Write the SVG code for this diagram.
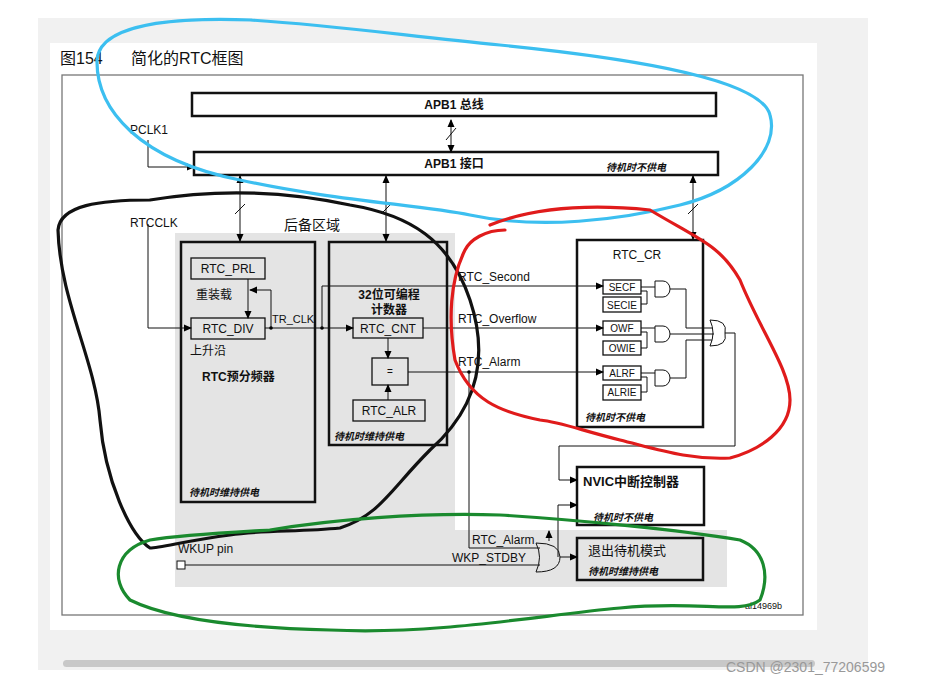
<svg xmlns="http://www.w3.org/2000/svg" width="952" height="685" viewBox="0 0 952 685">
<defs>
<marker id="a" markerWidth="8" markerHeight="8" refX="7" refY="4" orient="auto-start-reverse" markerUnits="userSpaceOnUse"><path d="M0,0.5 L8,4 L0,7.5 z" fill="#000"/></marker>
<style>
text{font-family:"Liberation Sans","Noto Sans CJK SC",sans-serif;font-size:12px;fill:#111}
.b{font-weight:bold}
.i{font-style:italic;font-size:10px;font-weight:bold}
.tk{fill:#fff;stroke:#111;stroke-width:2.5}
.th{fill:#fff;stroke:#111;stroke-width:1.3}
.ln{fill:none;stroke:#111;stroke-width:1}
.ar{fill:none;stroke:#111;stroke-width:1;marker-end:url(#a)}
.g{stroke:#111;stroke-width:1}
.an{fill:none;stroke-width:3.2;stroke-linecap:round;stroke-linejoin:round}
</style>
</defs>
<rect width="952" height="685" fill="#fff"/>
<rect x="38" y="18" width="830" height="652" fill="#f1f1f1"/>
<rect x="50" y="43" width="767" height="587" fill="#fff"/>
<rect x="63" y="660" width="752" height="7" rx="3.5" fill="#c8c8c8"/>
<rect x="62" y="75" width="741" height="540" fill="none" stroke="#777" stroke-width="1.3"/>
<text x="60" y="64" style="font-size:16px">图154</text>
<text x="131" y="64" style="font-size:16px">简化的RTC框图</text>
<polygon points="175,233 455,233 455,530 727,530 727,587 175,587" fill="#e4e4e4"/>

<g id="apb1bus"><rect class="tk" x="192" y="93" width="524" height="23"/><text class="b" x="454" y="109" text-anchor="middle">APB1 总线</text></g>
<g id="apb1if"><rect class="tk" x="194" y="152" width="524" height="23"/><text class="b" x="454" y="168" text-anchor="middle">APB1 接口</text><text class="i" x="606" y="171">待机时不供电</text></g>
<text x="130" y="134">PCLK1</text>
<text x="130" y="227">RTCCLK</text>
<text x="312" y="230" text-anchor="middle" style="font-size:14px">后备区域</text>

<g id="prescaler">
<rect fill="none" stroke="#111" stroke-width="2.5" x="181" y="242" width="134" height="260"/>
<text class="i" x="189" y="496">待机时维持供电</text>
<text class="b" x="202" y="381">RTC预分频器</text>
</g>
<g id="prl"><rect class="th" x="191" y="258" width="74" height="21" style="fill:#e4e4e4"/><text x="228" y="273" text-anchor="middle">RTC_PRL</text></g>
<text x="196" y="299">重装载</text>
<g id="div"><rect class="th" x="191" y="318" width="74" height="21" style="fill:#e4e4e4"/><text x="228" y="333" text-anchor="middle">RTC_DIV</text></g>
<text x="190" y="355">上升沿</text>
<text x="272" y="323" style="font-size:11px">TR_CLK</text>

<g id="counter">
<rect fill="none" stroke="#111" stroke-width="2.5" x="329" y="242" width="118" height="203"/>
<text class="b" x="389" y="299" text-anchor="middle">32位可编程</text>
<text class="b" x="389" y="314" text-anchor="middle">计数器</text>
<text class="i" x="334" y="440">待机时维持供电</text>
</g>
<g id="cnt"><rect class="th" x="353" y="318" width="70" height="20" style="fill:#e4e4e4"/><text x="388" y="333" text-anchor="middle">RTC_CNT</text></g>
<g id="cmp"><rect class="th" x="372" y="358" width="36" height="27" style="fill:#e4e4e4"/><text x="390" y="375" text-anchor="middle" style="font-size:10px">=</text></g>
<g id="alr"><rect class="th" x="353" y="400" width="72" height="21" style="fill:#e4e4e4"/><text x="389" y="415" text-anchor="middle">RTC_ALR</text></g>

<text x="458" y="281">RTC_Second</text>
<text x="458" y="323">RTC_Overflow</text>
<text x="458" y="366">RTC_Alarm</text>

<g id="rtccr">
<rect class="tk" x="577" y="240" width="126" height="187"/>
<text x="637" y="259" text-anchor="middle">RTC_CR</text>
<text class="i" x="585" y="421">待机时不供电</text>
<rect class="th" x="603" y="280" width="38" height="14"/><text x="622" y="291" text-anchor="middle" style="font-size:10px">SECF</text>
<rect class="th" x="603" y="297" width="38" height="15"/><text x="622" y="309" text-anchor="middle" style="font-size:10px">SECIE</text>
<rect class="th" x="603" y="321" width="38" height="14"/><text x="622" y="332" text-anchor="middle" style="font-size:10px">OWF</text>
<rect class="th" x="603" y="341" width="38" height="14"/><text x="622" y="352" text-anchor="middle" style="font-size:10px">OWIE</text>
<rect class="th" x="603" y="366" width="38" height="14"/><text x="622" y="377" text-anchor="middle" style="font-size:10px">ALRF</text>
<rect class="th" x="603" y="385" width="38" height="15"/><text x="622" y="396" text-anchor="middle" style="font-size:10px">ALRIE</text>
<path class="g" fill="#fff" d="M655,281 H663 A7,8 0 0 1 663,297 H655 Z"/>
<path class="g" fill="#fff" d="M655,326 H663 A7,8 0 0 1 663,342 H655 Z"/>
<path class="g" fill="#fff" d="M655,370 H663 A7,8 0 0 1 663,386 H655 Z"/>
<path class="g" fill="#fff" d="M710,320 Q728,320 725,333 Q728,346 710,346 Q716,333 710,320 Z"/>
</g>
<g id="nvic"><rect class="tk" x="577" y="467" width="127" height="58"/><text class="b" x="583" y="486" style="font-size:13px">NVIC中断控制器</text><text class="i" x="593" y="521">待机时不供电</text></g>
<g id="exit"><rect class="tk" x="577" y="538" width="126" height="42" style="fill:#e4e4e4"/><text x="588" y="555" style="font-size:13px">退出待机模式</text><text class="i" x="588" y="575">待机时维持供电</text></g>
<g id="or2"><path class="g" fill="#e4e4e4" d="M536,543 Q560,543 560,557 Q560,572 536,572 Q543,557 536,543 Z"/></g>
<text x="472" y="544">RTC_Alarm</text>
<text x="452" y="562">WKP_STDBY</text>
<text x="178" y="553">WKUP pin</text>
<rect x="177" y="561" width="8" height="8" fill="#fff" stroke="#111"/>
<text x="745" y="609" style="font-size:9px">ai14969b</text>
<text x="726" y="672" style="font-size:14px;fill:#999">CSDN @2301_77206599</text>

<g id="connectors">
<line class="ar" x1="451" y1="120" x2="451" y2="152" marker-start="url(#a)"/>
<path class="ln" d="M446,140 L456,128"/>
<path class="ar" d="M148,140 V167 H194"/>
<line class="ar" x1="240" y1="241" x2="240" y2="176" marker-start="url(#a)"/>
<line class="ar" x1="386" y1="241" x2="386" y2="176" marker-start="url(#a)"/>
<line class="ar" x1="693" y1="239" x2="693" y2="176" marker-start="url(#a)"/>
<path class="ln" d="M235,214 L245,204 M381,214 L391,204 M688,214 L698,204"/>
<path class="ar" d="M148,224 V328 H191"/>
<line class="ar" x1="248" y1="279" x2="248" y2="318"/>
<path class="ar" d="M271,328 V290 H250"/>
<line class="ar" x1="265" y1="328" x2="353" y2="328"/>
<circle cx="271" cy="328" r="1.8"/><circle cx="322" cy="328" r="1.8"/>
<path class="ar" d="M322,328 V286 H603"/>
<line class="ar" x1="423" y1="328" x2="603" y2="328"/>
<line class="ar" x1="388" y1="338" x2="388" y2="358"/>
<line class="ar" x1="388" y1="400" x2="388" y2="385"/>
<line class="ar" x1="408" y1="372" x2="603" y2="372"/>
<circle cx="469" cy="372" r="1.8"/>
<path class="ln" d="M469,372 V548 H540"/>
<path class="ln" d="M185,565 H540"/>
<path class="ar" d="M549,541 V531"/>
<line class="ar" x1="560" y1="557" x2="577" y2="557"/>
<path class="ar" d="M558,557 V505 H577"/>
<path class="ar" d="M725,333 H735 V446 H559 V480 H577"/>
<path class="ln" d="M641,287 H655 M641,291 H647 V304 H641 M641,328 H655 M641,332 H647 V348 H641 M641,373 H655 M641,377 H647 V392 H641"/>
<path class="ln" d="M670,289 H686 V328 H712 M670,334 H714 M670,378 H686 V340 H712"/>
</g>

<g id="annotations">
<path class="an" stroke="#3cbff0" d="M252,20 C200,18 100,18 97,60 C96,110 140,160 240,180 C330,200 420,205 470,215 C540,230 620,220 680,205 C740,190 780,150 770,115 C760,75 600,55 500,45 C400,35 330,25 250,20"/>
<path class="an" stroke="#111" d="M150,200 C210,190 280,190 350,205 C410,215 450,240 470,300 C490,360 475,410 430,450 C390,490 380,515 340,528 C300,532 260,530 230,535 C190,540 160,548 150,548 C130,535 105,480 100,420 C95,360 60,300 58,230 C60,205 100,200 150,200"/>
<path class="an" stroke="#e01b1b" d="M490,225 C540,205 600,205 650,210 C700,240 720,245 740,280 C760,330 790,370 790,400 C790,430 760,450 730,458 C690,460 660,450 620,440 C580,430 560,422 540,420 C500,412 470,400 455,360 C448,320 450,280 465,250 C470,240 485,230 505,230"/>
<path class="an" stroke="#1a8a2e" d="M270,530 C330,520 420,512 500,515 C580,520 680,530 740,540 C765,550 770,575 760,600 C740,615 700,600 620,608 C540,615 440,635 330,630 C250,628 170,620 130,600 C110,580 115,550 150,540 C180,535 220,533 270,530"/>
</g>
</svg>
